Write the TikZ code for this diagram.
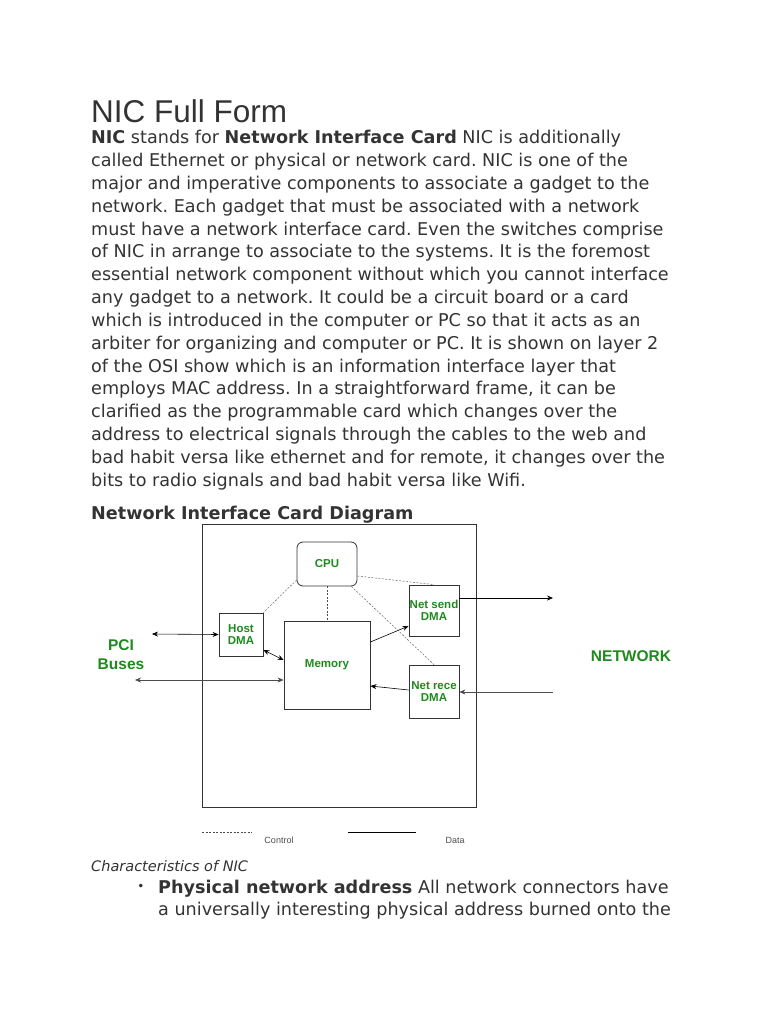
\documentclass[tikz,border=0pt]{standalone}
\usepackage{fontspec}
\setmainfont{DejaVu Sans}
\newfontfamily\arialf{Liberation Sans}
\usetikzlibrary{arrows.meta}
\definecolor{txt}{HTML}{333333}
\definecolor{grn}{HTML}{1E8A1E}
\frenchspacing
\tikzset{
 line/.style={anchor=base west,inner sep=0,font=\fontsize{17.6}{20}\selectfont,text=txt},
 box/.style={draw=black!80,thick,inner sep=0,font=\arialf\fontsize{11.5}{12.5}\selectfont\bfseries,text=grn,align=center},
 ctl/.style={draw=black!70,dash pattern=on 2pt off 1.5pt},
 dat/.style={draw=black,semithick,-{Stealth[length=6pt,width=5pt]}},
 dat2/.style={draw=black,semithick,{Stealth[length=6pt,width=5pt]}-{Stealth[length=6pt,width=5pt]}}
}
\begin{document}
\begin{tikzpicture}[x=1pt,y=-1pt]
\useasboundingbox (0,0) rectangle (768,1024);
\node[anchor=base west,inner sep=0,font=\arialf\fontsize{31.5}{34}\selectfont,text=txt] (title) at (91,123) {NIC Full Form};
\node[line] (l1) at (91,144) {\textbf{NIC} stands for \textbf{Network Interface Card} NIC is additionally};
\node[line] (l2) at (91,166.8) {called Ethernet or physical or network card. NIC is one of the};
\node[line] (l3) at (91,189.6) {major and imperative components to associate a gadget to the};
\node[line] (l4) at (91,212.4) {network. Each gadget that must be associated with a network};
\node[line] (l5) at (91,235.2) {must have a network interface card. Even the switches comprise};
\node[line] (l6) at (91,258) {of NIC in arrange to associate to the systems. It is the foremost};
\node[line] (l7) at (91,280.8) {essential network component without which you cannot interface};
\node[line] (l8) at (91,303.6) {any gadget to a network. It could be a circuit board or a card};
\node[line] (l9) at (91,326.4) {which is introduced in the computer or PC so that it acts as an};
\node[line] (l10) at (91,349.2) {arbiter for organizing and computer or PC. It is shown on layer 2};
\node[line] (l11) at (91,372) {of the OSI show which is an information interface layer that};
\node[line] (l12) at (91,394.8) {employs MAC address. In a straightforward frame, it can be};
\node[line] (l13) at (91,417.6) {clarified as the programmable card which changes over the};
\node[line] (l14) at (91,440.4) {address to electrical signals through the cables to the web and};
\node[line] (l15) at (91,463.2) {bad habit versa like ethernet and for remote, it changes over the};
\node[line] (l16) at (91,486) {bits to radio signals and bad habit versa like Wifi.};
\node[line,font=\fontsize{17.6}{20}\selectfont\bfseries] (h2) at (91,519) {Network Interface Card Diagram};
% diagram
\draw[draw=black!80,thick] (202,524) rectangle (476,807);
\node[box,rounded corners=6pt,minimum width=60,minimum height=44] (cpu) at (327,564) {CPU};
\node[box,minimum width=44,minimum height=43] (host) at (241,634.5) {Host\\DMA};
\node[box,minimum width=86,minimum height=88] (mem) at (327,665) {Memory};
\node[box,minimum width=50,minimum height=51] (send) at (434,610.5) {Net send\\DMA};
\node[box,minimum width=50,minimum height=53] (rece) at (434,691.5) {Net rece\\DMA};
\node[inner sep=0,font=\arialf\fontsize{15.5}{19}\selectfont\bfseries,text=grn,align=center] (pci) at (121,655) {PCI\\Buses};
\node[inner sep=0,font=\arialf\fontsize{15.5}{19}\selectfont\bfseries,text=grn] (net) at (631,656) {NETWORK};
\coordinate (p1) at (152,634);
\coordinate (p2) at (135,680);
\coordinate (o1) at (553,598);
\coordinate (o2) at (553,692);
\draw[dat2] (p1) -- (host.west);
\draw[dat2,draw=black!70] (p2) -- (mem.west |- p2);
\draw[dat2] (host.east |- 0,650) -- (mem.west |- 0,660);
\draw[dat] (mem.east |- 0,642) -- (send.west |- 0,626);
\draw[dat] (rece.west |- 0,690) -- (mem.east |- 0,686);
\draw[dat] (send.east |- o1) -- (o1);
\draw[dat,draw=black!70] (o2) -- (rece.east |- o2);
\draw[ctl] (cpu.west |- 0,580) -- (host.north east);
\draw[ctl] (cpu.south) -- (mem.north);
\draw[ctl] (cpu.east |- 0,576) -- (send.north);
\draw[ctl] (cpu.south east) ++(-6,0) -- (rece.north);
% legend
\coordinate (c1) at (202,832); \coordinate (c2) at (252,832);
\coordinate (d1) at (348,832); \coordinate (d2) at (416,832);
\draw[ctl] (c1) -- (c2);
\draw[black,semithick] (d1) -- (d2);
\node[font=\arialf\fontsize{9}{10}\selectfont,text=black!70] (lc) at (279,840) {Control};
\node[font=\arialf\fontsize{9}{10}\selectfont,text=black!70] (ld) at (455,840) {Data};
\node[line,font=\fontsize{14.5}{17}\selectfont\itshape] (cap) at (91,871) {Characteristics of NIC};
\node[text=txt,font=\fontsize{12}{14}\selectfont] (bul) at (141,887) {•};
\node[line] (b1) at (158,893) {\textbf{Physical network address} All network connectors have};
\node[line] (b2) at (158,915.8) {a universally interesting physical address burned onto the};
\end{tikzpicture}
\end{document}
